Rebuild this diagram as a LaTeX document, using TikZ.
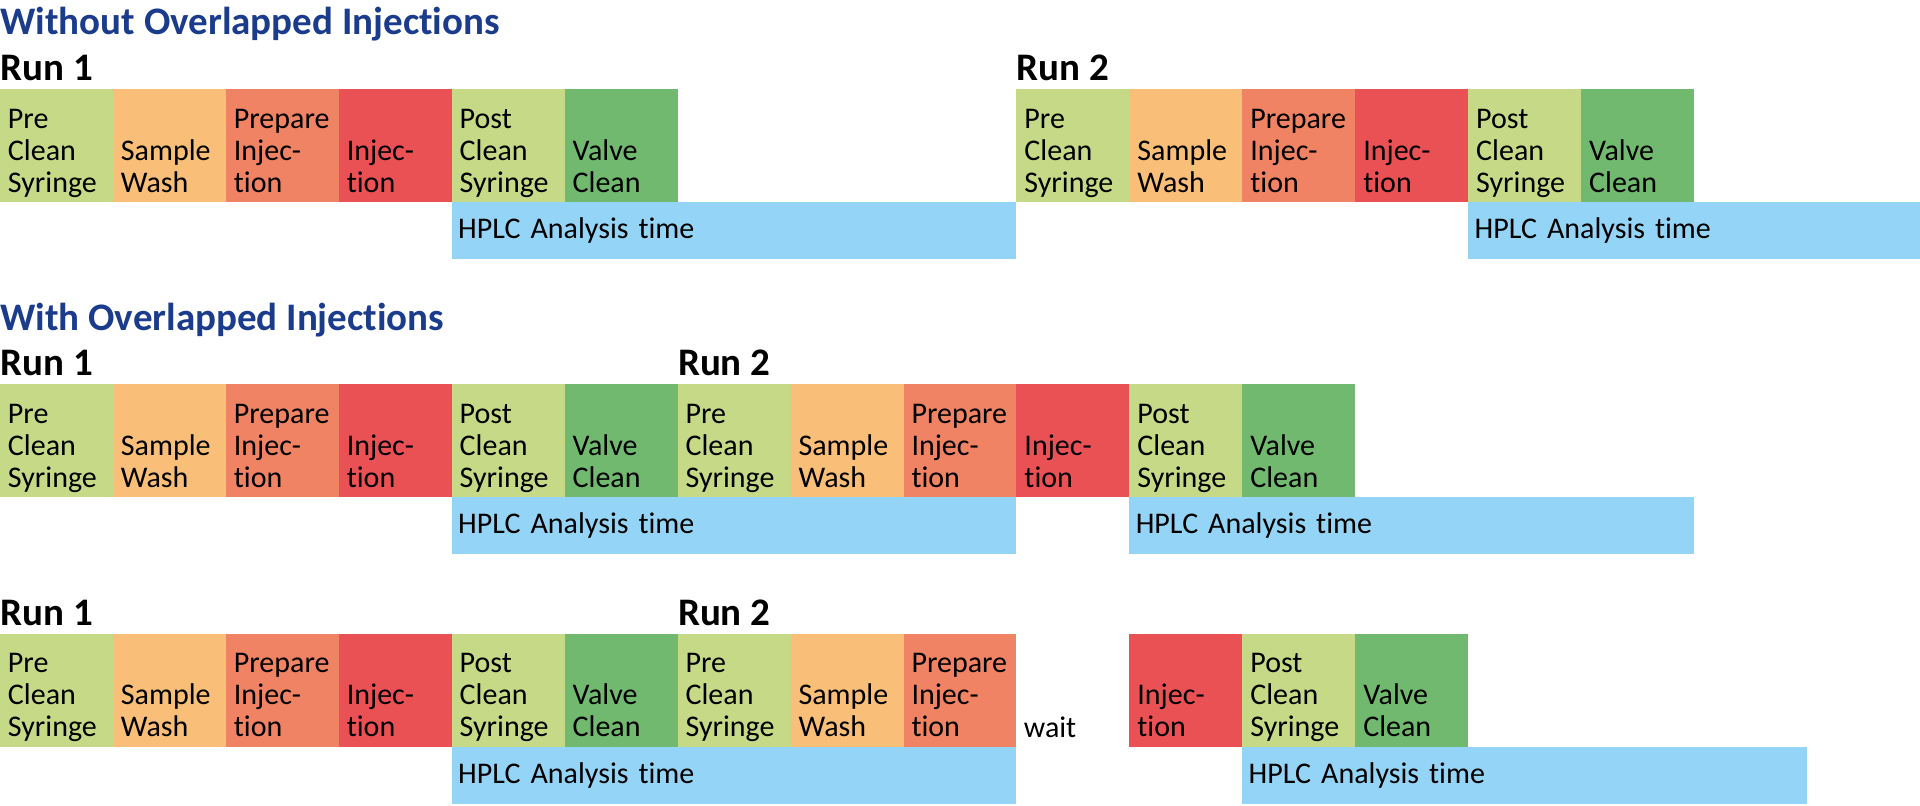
\documentclass[tikz,border=0pt]{standalone}
\usepackage{fontspec}
\setmainfont{Carlito}[Ligatures=NoCommon]
\usepackage{tikz}
\usetikzlibrary{positioning}

\definecolor{preclean}{HTML}{C5D987}
\definecolor{samplewash}{HTML}{F9BE78}
\definecolor{prepinj}{HTML}{F08363}
\definecolor{injection}{HTML}{EA5155}
\definecolor{valveclean}{HTML}{71B96F}
\definecolor{hplcblue}{HTML}{94D4F6}
\definecolor{titleblue}{HTML}{1B3C8C}

\newcommand{\stagetxt}[1]{\parbox[c][51pt][b]{48.5pt}{\raggedright #1\strut}}

\begin{document}
\begin{tikzpicture}[
			x=56.47pt, y=-56.47pt,
			every node/.style={font=\fontsize{15}{16}\selectfont},
			stagebox/.style={
				rectangle, anchor=north west, inner sep=0pt, outer sep=0pt,
				minimum width=56.47pt, minimum height=56.47pt
			},
			hplc/.style={
				rectangle, fill=hplcblue, anchor=north west, inner sep=0pt, outer sep=0pt,
				minimum width=282.35pt, minimum height=28.24pt,
				text width=276pt, align=left
			},
			heading/.style={
				anchor=base west, inner sep=0pt, text=titleblue,
				font=\fontsize{19.5}{22}\selectfont\bfseries
			},
			runlabel/.style={
				anchor=base west, inner sep=0pt,
				font=\fontsize{19.5}{22}\selectfont\bfseries
			}
			]
			
			\clip (0,0) rectangle (17,7.134);
			
			\node[heading] (without) at (0,0.304) {Without Overlapped Injections};
			\node[heading] (with) at (0,2.927) {With Overlapped Injections};
			
			\node[runlabel] (run1a) at (0,0.716) {Run 1};
			\node[runlabel] (run2a) at (9,0.716) {Run 2};
			\node[runlabel] (run1b) at (0,3.328) {Run 1};
			\node[runlabel] (run2b) at (6,3.328) {Run 2};
			\node[runlabel] (run1c) at (0,5.54) {Run 1};
			\node[runlabel] (run2c) at (6,5.54) {Run 2};
			
			% full runs, six stages side by side
			\foreach \run/\x/\y in {a/0/0.791, b/9/0.791, c/0/3.404, d/6/3.404, e/0/5.616}
			\foreach \nm/\col/\txt [count=\i from 0] in {
				pre/preclean/{Pre\\Clean\\Syringe},
				wash/samplewash/{Sample\\Wash},
				prep/prepinj/{Prepare\\Injec-\\tion},
				inj/injection/{Injec-\\tion},
				post/preclean/{Post\\Clean\\Syringe},
				valve/valveclean/{Valve\\Clean}}
			\node[stagebox, fill=\col] (\run-\nm) at ({\x+\i},\y) {\stagetxt{\txt}};
			
			% second run that has to wait
			\node[stagebox, fill=preclean] (f-pre) at (6,5.616) {\stagetxt{Pre\\Clean\\Syringe}};
			\node[stagebox, fill=samplewash, right=0pt of f-pre] (f-wash) {\stagetxt{Sample\\Wash}};
			\node[stagebox, fill=prepinj, right=0pt of f-wash] (f-prep) {\stagetxt{Prepare\\Injec-\\tion}};
			\node[anchor=base west, inner sep=0pt] (wait) at ([shift={(3.5pt,4.9pt)}]f-prep.south east) {wait};
			\node[stagebox, fill=injection] (f-inj) at (10,5.616) {\stagetxt{Injec-\\tion}};
			\node[stagebox, fill=preclean, right=0pt of f-inj] (f-post) {\stagetxt{Post\\Clean\\Syringe}};
			\node[stagebox, fill=valveclean, right=0pt of f-post] (f-valve) {\stagetxt{Valve\\Clean}};
			
			\foreach \run in {a,b,c,d,e,f}
			\node[hplc] (\run-hplc) at (\run-post.south west) {HPLC Analysis time};
		\end{tikzpicture}
\end{document}
